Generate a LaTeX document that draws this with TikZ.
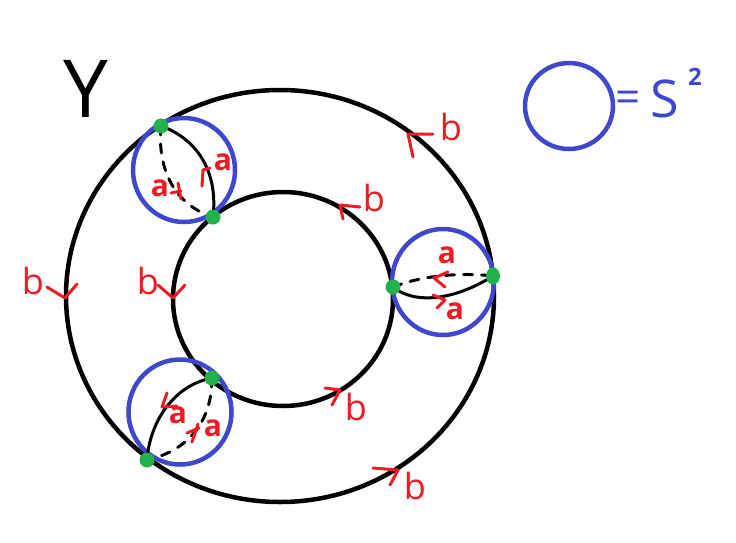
\documentclass[tikz,border=0pt]{standalone}
\usepackage{fontspec}
\setmainfont{Open Sans}
\usetikzlibrary{shapes.geometric}
\definecolor{pblue}{RGB}{63,72,204}
\definecolor{pred}{RGB}{237,28,36}
\definecolor{pgreen}{RGB}{34,177,76}
\begin{document}
\begin{tikzpicture}[x=1pt,y=-1pt,
  ring/.style={draw=black, line width=4.5pt, ellipse, inner sep=0pt},
  sphere/.style={draw=pblue, line width=4.5pt, ellipse, inner sep=0pt},
  dot/.style={fill=pgreen, circle, inner sep=0pt, minimum size=15pt},
  curvesolid/.style={line width=3pt, line cap=round},
  curvedash/.style={curvesolid, dash pattern=on 9pt off 9pt},
  chev/.style={draw=pred, line width=3pt, line cap=round, line join=round},
  lab/.style={text=pred, inner sep=0pt, font=\fontsize{30}{30}\selectfont\bfseries},
  blab/.style={text=pred, inner sep=0pt, font=\fontsize{36}{36}\selectfont},
  legend/.style={text=pblue, inner sep=0pt}]
\useasboundingbox (0,0) rectangle (736,542);
\fill[white] (0,0) rectangle (736,542);

% big rings
\node[ring, minimum width=428pt, minimum height=412pt] (outer) at (280,296) {};
\node[ring, minimum width=220pt, minimum height=214pt] (inner) at (283,299) {};

% spheres
\node[sphere, minimum width=102pt, minimum height=104pt] (s1) at (184,170) {};
\node[sphere, minimum width=102pt, minimum height=106pt] (s2) at (443,282) {};
\node[sphere, minimum width=103pt, minimum height=105pt] (s3) at (180,412) {};
\node[sphere, minimum width=88pt, minimum height=86pt] (leg) at (569,106) {};

% dot positions
\coordinate (d1) at (161,126);
\coordinate (d2) at (213,217);
\coordinate (d3) at (393,287);
\coordinate (d4) at (493,276);
\coordinate (d5) at (212,378);
\coordinate (d6) at (147,460);

% curves in spheres
\draw[curvesolid] (d1) .. controls (200,140) and (218,175) .. (d2);
\draw[curvedash] (d1) .. controls (157,170) and (175,205) .. (d2);
\draw[curvedash] (d3) .. controls (420,276) and (460,272) .. (d4);
\draw[curvesolid] (d3) .. controls (415,305) and (455,300) .. (d4);
\draw[curvesolid] (d5) .. controls (175,385) and (150,420) .. (d6);
\draw[curvedash] (d5) .. controls (212,420) and (190,450) .. (d6);

% dots
\node[dot] (g1) at (d1) {};
\node[dot] (g2) at (d2) {};
\node[dot] (g3) at (d3) {};
\node[dot, ellipse, minimum width=14pt, minimum height=17pt] (g4) at (d4) {};
\node[dot] (g5) at (d5) {};
\node[dot] (g6) at (d6) {};

% arrow marks (red)
\draw[chev] (171,193) -- (181,191) (178,183) -- (181,199);
\draw[chev] (202,186) -- (203,170) -- (210,168);
\draw[chev] (448,272) -- (434,278) -- (445,287);
\draw[chev] (433,295) -- (445,300) -- (437,308);
\draw[chev] (167,393) -- (162,407) -- (177,406);
\draw[chev] (187,433) -- (199,428) (198,424) -- (192,442);
\draw[chev] (413,157) -- (408,134) -- (433,134);
\draw[chev] (343,219) -- (340,205) -- (360,207);
\draw[chev] (47,287) -- (65,298) -- (77,284);
\draw[chev] (158,285) -- (173,298) -- (185,285);
\draw[chev] (325,388) -- (340,390) -- (332,405);
\draw[chev] (373,468) -- (398,470) -- (390,485);

% labels a
\node[lab] (a1) at (160,188) {a};
\node[lab] (a2) at (223,162) {a};
\node[lab] (a3) at (447,255) {a};
\node[lab] (a4) at (455,311) {a};
\node[lab] (a5) at (178,415) {a};
\node[lab] (a6) at (213,428) {a};

% labels b
\node[blab] (b1) at (451,127) {b};
\node[blab] (b2) at (374,198) {b};
\node[blab] (b3) at (33,281) {b};
\node[blab] (b4) at (148,281) {b};
\node[blab] (b5) at (356,407) {b};
\node[blab] (b6) at (415,486) {b};

% Y and legend
\node[inner sep=0pt, font=\fontsize{80}{80}\selectfont] (Y) at (86,89) {Y};
\node[legend, font=\fontsize{44}{44}\selectfont] (eq) at (628,102) {=};
\node[legend, font=\fontsize{52}{52}\selectfont] (S) at (665,99) {S};
\node[legend, font=\fontsize{24}{24}\selectfont\bfseries] (two) at (695,77) {2};
\end{tikzpicture}
\end{document}
